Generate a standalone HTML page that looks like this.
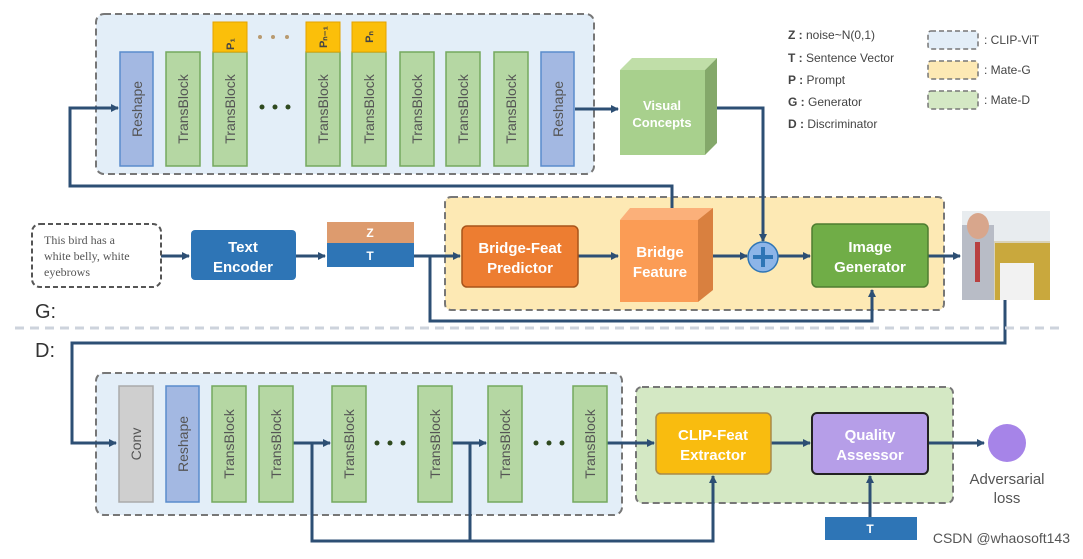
<!DOCTYPE html>
<html><head><meta charset="utf-8"><style>
body{margin:0;background:#fff;width:1083px;height:554px;overflow:hidden}
svg text{font-family:"Liberation Sans",sans-serif}
svg text.serif{font-family:"Liberation Serif",serif}
</style></head><body>
<svg width="1083" height="554" viewBox="0 0 1083 554" xmlns="http://www.w3.org/2000/svg">
<defs>
<marker id="a" markerWidth="8" markerHeight="8" refX="7" refY="4" orient="auto" markerUnits="userSpaceOnUse"><path d="M0,0 L8,4 L0,8 Z" fill="#2d4f74"/></marker>
</defs>
<rect x="96" y="14" width="498" height="160" rx="8" fill="#e3eef8" stroke="#777" stroke-width="2" stroke-dasharray="7,4"/>
<rect x="445" y="197" width="499" height="113" rx="6" fill="#fde9b4" stroke="#777" stroke-width="2" stroke-dasharray="7,4"/>
<rect x="96" y="373" width="526" height="142" rx="8" fill="#e3eef8" stroke="#777" stroke-width="2" stroke-dasharray="7,4"/>
<rect x="636" y="387" width="317" height="116" rx="6" fill="#d4e8c4" stroke="#777" stroke-width="2" stroke-dasharray="7,4"/>
<g font-size="12" fill="#444">
<text x="788" y="39"><tspan font-weight="bold">Z :</tspan> noise~N(0,1)</text>
<text x="788" y="62"><tspan font-weight="bold">T :</tspan> Sentence Vector</text>
<text x="788" y="84"><tspan font-weight="bold">P :</tspan> Prompt</text>
<text x="788" y="106"><tspan font-weight="bold">G :</tspan> Generator</text>
<text x="788" y="128"><tspan font-weight="bold">D :</tspan> Discriminator</text>
<rect x="928" y="31" width="50" height="18" rx="3" fill="#e3eef8" stroke="#777" stroke-width="1.5" stroke-dasharray="5,3"/>
<rect x="928" y="61" width="50" height="18" rx="3" fill="#fde9b4" stroke="#777" stroke-width="1.5" stroke-dasharray="5,3"/>
<rect x="928" y="91" width="50" height="18" rx="3" fill="#d4e8c4" stroke="#777" stroke-width="1.5" stroke-dasharray="5,3"/>
<text x="984" y="44">: CLIP-ViT</text>
<text x="984" y="74">: Mate-G</text>
<text x="984" y="104">: Mate-D</text>
</g>
<g stroke="#2d4f74" stroke-width="3" fill="none">
<polyline points="672,208 672,186 70,186 70,108 118,108" marker-end="url(#a)"/>
<polyline points="575,109 618,109" marker-end="url(#a)"/>
<polyline points="712,108 763,108 763,241" marker-end="url(#a)"/>
<line x1="161" y1="256" x2="189" y2="256" marker-end="url(#a)"/>
<line x1="296" y1="256" x2="325" y2="256" marker-end="url(#a)"/>
<line x1="414" y1="256" x2="460" y2="256" marker-end="url(#a)"/>
<polyline points="430,256 430,321 872,321 872,290" marker-end="url(#a)"/>
<line x1="578" y1="256" x2="618" y2="256" marker-end="url(#a)"/>
<line x1="713" y1="256" x2="747" y2="256" marker-end="url(#a)"/>
<line x1="777" y1="256" x2="810" y2="256" marker-end="url(#a)"/>
<line x1="928" y1="256" x2="960" y2="256" marker-end="url(#a)"/>
<polyline points="1005,300 1005,343 72,343 72,443 116,443" marker-end="url(#a)"/>
<line x1="293" y1="443" x2="330" y2="443" marker-end="url(#a)"/>
<line x1="452" y1="443" x2="486" y2="443" marker-end="url(#a)"/>
<polyline points="312,443 312,541 713,541 713,476" marker-end="url(#a)"/>
<line x1="470" y1="443" x2="470" y2="541"/>
<line x1="607" y1="443" x2="654" y2="443" marker-end="url(#a)"/>
<line x1="771" y1="443" x2="810" y2="443" marker-end="url(#a)"/>
<line x1="928" y1="443" x2="984" y2="443" marker-end="url(#a)"/>
<line x1="870" y1="517" x2="870" y2="476" marker-end="url(#a)"/>
</g>
<g font-size="14" fill="#555">
<rect x="120" y="52" width="33" height="114" fill="#a3b8e2" stroke="#5a8ccc" stroke-width="1.5"/>
<text transform="translate(142,109) rotate(-90)" text-anchor="middle">Reshape</text>
<rect x="541" y="52" width="33" height="114" fill="#a3b8e2" stroke="#5a8ccc" stroke-width="1.5"/>
<text transform="translate(563,109) rotate(-90)" text-anchor="middle">Reshape</text>
<g fill="#b5d7a3" stroke="#75a85e" stroke-width="1.5">
<rect x="166" y="52" width="34" height="114"/><rect x="213" y="52" width="34" height="114"/>
<rect x="306" y="52" width="34" height="114"/><rect x="352" y="52" width="34" height="114"/>
<rect x="400" y="52" width="34" height="114"/><rect x="446" y="52" width="34" height="114"/>
<rect x="494" y="52" width="34" height="114"/>
</g>
<g fill="#fbbf0a" stroke="#e3a300"><rect x="213" y="22" width="34" height="30"/><rect x="306" y="22" width="34" height="30"/><rect x="352" y="22" width="34" height="30"/></g>
<g font-size="11" font-weight="bold" fill="#444">
<text transform="translate(234,44) rotate(-90)" text-anchor="middle">P₁</text>
<text transform="translate(327,37) rotate(-90)" text-anchor="middle">Pₙ₋₁</text>
<text transform="translate(373,37) rotate(-90)" text-anchor="middle">Pₙ</text>
</g>
<text transform="translate(188,109) rotate(-90)" text-anchor="middle">TransBlock</text>
<text transform="translate(235,109) rotate(-90)" text-anchor="middle">TransBlock</text>
<text transform="translate(328,109) rotate(-90)" text-anchor="middle">TransBlock</text>
<text transform="translate(374,109) rotate(-90)" text-anchor="middle">TransBlock</text>
<text transform="translate(422,109) rotate(-90)" text-anchor="middle">TransBlock</text>
<text transform="translate(468,109) rotate(-90)" text-anchor="middle">TransBlock</text>
<text transform="translate(516,109) rotate(-90)" text-anchor="middle">TransBlock</text>
</g>
<g fill="#2f4a1f"><circle cx="262" cy="107" r="2.5"/><circle cx="275" cy="107" r="2.5"/><circle cx="288" cy="107" r="2.5"/></g>
<g fill="#b89a70"><circle cx="260" cy="37" r="2"/><circle cx="273" cy="37" r="2"/><circle cx="287" cy="37" r="2"/></g>
<polygon points="620,70 632,58 717,58 705,70" fill="#c0dea8"/>
<polygon points="705,70 717,58 717,143 705,155" fill="#84a86a"/>
<rect x="620" y="70" width="85" height="85" fill="#a8d08d"/>
<text x="662" y="110" font-size="13" font-weight="bold" fill="#fff" text-anchor="middle">Visual</text>
<text x="662" y="127" font-size="13" font-weight="bold" fill="#fff" text-anchor="middle">Concepts</text>
<rect x="32" y="224" width="129" height="63" rx="8" fill="#fff" stroke="#555" stroke-width="2" stroke-dasharray="5,3"/>
<g font-size="12" fill="#555">
<text class="serif" x="44" y="244">This bird has a</text>
<text class="serif" x="44" y="260">white belly, white</text>
<text class="serif" x="44" y="276">eyebrows</text>
</g>
<rect x="191" y="230" width="105" height="50" rx="4" fill="#2e75b6"/>
<text x="243" y="252" font-size="15" font-weight="bold" fill="#fff" text-anchor="middle">Text</text>
<text x="243" y="272" font-size="15" font-weight="bold" fill="#fff" text-anchor="middle">Encoder</text>
<rect x="327" y="222" width="87" height="21" fill="#dd9b6e"/>
<rect x="327" y="243" width="87" height="24" fill="#2e75b6"/>
<text x="370" y="237" font-size="12" font-weight="bold" fill="#fff" text-anchor="middle">Z</text>
<text x="370" y="260" font-size="12" font-weight="bold" fill="#fff" text-anchor="middle">T</text>
<rect x="462" y="226" width="116" height="61" rx="5" fill="#ed7d31" stroke="#a8541a" stroke-width="1.5"/>
<text x="520" y="253" font-size="15" font-weight="bold" fill="#fff" text-anchor="middle">Bridge-Feat</text>
<text x="520" y="273" font-size="15" font-weight="bold" fill="#fff" text-anchor="middle">Predictor</text>
<polygon points="620,220 630,208 713,208 703,220" fill="#fbb07a"/>
<polygon points="698,220 713,208 713,290 698,302" fill="#d9803f"/>
<rect x="620" y="220" width="78" height="82" fill="#fb9c55"/>
<text x="660" y="257" font-size="15" font-weight="bold" fill="#fff" text-anchor="middle">Bridge</text>
<text x="660" y="277" font-size="15" font-weight="bold" fill="#fff" text-anchor="middle">Feature</text>
<ellipse cx="763" cy="257" rx="15" ry="15" fill="#8db5e8" stroke="#2e75b6" stroke-width="1.5"/>
<path d="M763,247 V267 M753,257 H773" stroke="#2e75b6" stroke-width="4"/>
<rect x="812" y="224" width="116" height="63" rx="5" fill="#70ad47" stroke="#4e7d30" stroke-width="1.5"/>
<text x="870" y="252" font-size="15" font-weight="bold" fill="#fff" text-anchor="middle">Image</text>
<text x="870" y="272" font-size="15" font-weight="bold" fill="#fff" text-anchor="middle">Generator</text>
<rect x="962" y="211" width="88" height="89" fill="#d9d2b8"/>
<rect x="962" y="211" width="88" height="30" fill="#e8ecef"/>
<rect x="995" y="243" width="55" height="57" fill="#c9a83d"/>
<rect x="962" y="225" width="32" height="75" fill="#b8bcc6"/>
<ellipse cx="978" cy="226" rx="11" ry="13" fill="#d8a68c"/>
<rect x="975" y="242" width="5" height="40" fill="#b84040"/>
<rect x="1000" y="263" width="34" height="37" fill="#f2f2f2"/>
<text x="35" y="318" font-size="20" fill="#333">G:</text>
<line x1="15" y1="328" x2="1065" y2="328" stroke="#cdd3dc" stroke-width="3" stroke-dasharray="9,6"/>
<text x="35" y="357" font-size="20" fill="#333">D:</text>
<g font-size="14" fill="#555">
<rect x="119" y="386" width="34" height="116" fill="#cfcfcf" stroke="#aaa" stroke-width="1.5"/>
<text transform="translate(141,444) rotate(-90)" text-anchor="middle">Conv</text>
<rect x="166" y="386" width="33" height="116" fill="#a3b8e2" stroke="#5a8ccc" stroke-width="1.5"/>
<text transform="translate(188,444) rotate(-90)" text-anchor="middle">Reshape</text>
<g fill="#b5d7a3" stroke="#75a85e" stroke-width="1.5">
<rect x="212" y="386" width="34" height="116"/><rect x="259" y="386" width="34" height="116"/>
<rect x="332" y="386" width="34" height="116"/><rect x="418" y="386" width="34" height="116"/>
<rect x="488" y="386" width="34" height="116"/><rect x="573" y="386" width="34" height="116"/>
</g>
<text transform="translate(234,444) rotate(-90)" text-anchor="middle">TransBlock</text>
<text transform="translate(281,444) rotate(-90)" text-anchor="middle">TransBlock</text>
<text transform="translate(354,444) rotate(-90)" text-anchor="middle">TransBlock</text>
<text transform="translate(440,444) rotate(-90)" text-anchor="middle">TransBlock</text>
<text transform="translate(510,444) rotate(-90)" text-anchor="middle">TransBlock</text>
<text transform="translate(595,444) rotate(-90)" text-anchor="middle">TransBlock</text>
</g>
<g fill="#2f4a1f"><circle cx="377" cy="443" r="2.5"/><circle cx="390" cy="443" r="2.5"/><circle cx="403" cy="443" r="2.5"/>
<circle cx="536" cy="443" r="2.5"/><circle cx="549" cy="443" r="2.5"/><circle cx="562" cy="443" r="2.5"/></g>
<rect x="656" y="413" width="115" height="61" rx="5" fill="#f9bc0f" stroke="#a88a4a" stroke-width="1.5"/>
<text x="713" y="440" font-size="15" font-weight="bold" fill="#fff" text-anchor="middle">CLIP-Feat</text>
<text x="713" y="460" font-size="15" font-weight="bold" fill="#fff" text-anchor="middle">Extractor</text>
<rect x="812" y="413" width="116" height="61" rx="5" fill="#b69ee8" stroke="#222" stroke-width="2"/>
<text x="870" y="440" font-size="15" font-weight="bold" fill="#fff" text-anchor="middle">Quality</text>
<text x="870" y="460" font-size="15" font-weight="bold" fill="#fff" text-anchor="middle">Assessor</text>
<circle cx="1007" cy="443" r="19" fill="#a684e8"/>
<text x="1007" y="484" font-size="15" fill="#555" text-anchor="middle">Adversarial</text>
<text x="1007" y="503" font-size="15" fill="#555" text-anchor="middle">loss</text>
<rect x="825" y="517" width="92" height="23" fill="#2e75b6"/>
<text x="870" y="533" font-size="12" font-weight="bold" fill="#fff" text-anchor="middle">T</text>
<text x="1070" y="543" font-size="14" fill="#555" text-anchor="end">CSDN @whaosoft143</text>
</svg>
</body></html>
